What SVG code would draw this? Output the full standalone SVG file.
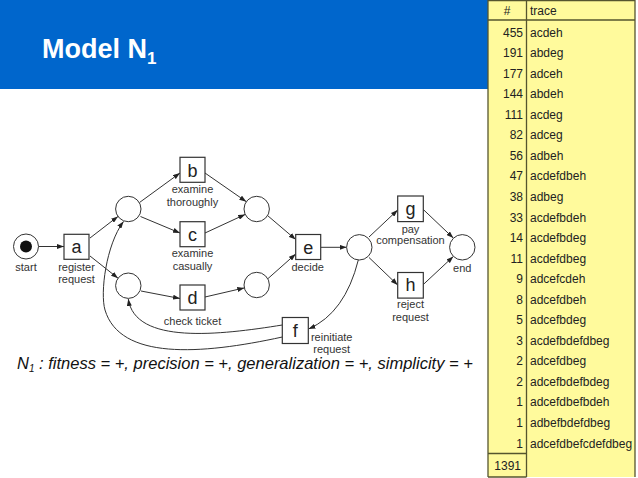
<svg xmlns="http://www.w3.org/2000/svg" width="638" height="478" viewBox="0 0 638 478">
<style>
.pl{fill:#fff;stroke:#333;stroke-width:1}
.tr{fill:#fff;stroke:#333;stroke-width:1.2}
.arc{fill:none;stroke:#333;stroke-width:1;marker-end:url(#ah)}
.lt{font-family:"Liberation Sans",Arial,sans-serif;font-size:18px;fill:#222;text-anchor:middle}
.lb{font-family:"Liberation Sans",Arial,sans-serif;font-size:11px;fill:#333;text-anchor:middle}
.tn{font-family:"Liberation Sans",Arial,sans-serif;font-size:12px;fill:#222;text-anchor:end}
.tt{font-family:"Liberation Sans",Arial,sans-serif;font-size:12px;fill:#222}
.tl{stroke:#55552e;stroke-width:1.3;fill:none}
</style>
<defs>
<marker id="ah" markerWidth="7" markerHeight="5" refX="7" refY="2.5" orient="auto" markerUnits="userSpaceOnUse">
<path d="M0,0 L7,2.5 L0,5 z" fill="#222"/>
</marker>
</defs>
<rect x="0" y="0" width="638" height="478" fill="#fff"/>
<rect x="0" y="0" width="488" height="89" fill="#0066CC"/>
<text x="42" y="58" font-family="'Liberation Sans',Arial,sans-serif" font-size="27" font-weight="bold" fill="#fff">Model N<tspan font-size="17" dy="6">1</tspan></text>

<g id="table">
<rect x="488" y="0" width="147" height="477" fill="#FFFA9C"/>
<line class="tl" x1="488" y1="0.7" x2="635" y2="0.7"/>
<line class="tl" x1="488" y1="20" x2="635" y2="20"/>
<line class="tl" x1="488" y1="0" x2="488" y2="477"/>
<line class="tl" x1="526.5" y1="0" x2="526.5" y2="477"/>
<line class="tl" x1="635" y1="0" x2="635" y2="477"/>
<line class="tl" x1="488" y1="453.5" x2="526.5" y2="453.5"/>
<line class="tl" x1="488" y1="477" x2="526.5" y2="477"/>
<text class="tt" x="507" y="14.5" text-anchor="middle">#</text>
<text class="tt" x="530" y="14.5">trace</text>
<text class="tn" x="523" y="36.5">455</text><text class="tt" x="530" y="36.5">acdeh</text>
<text class="tn" x="523" y="57">191</text><text class="tt" x="530" y="57">abdeg</text>
<text class="tn" x="523" y="77.6">177</text><text class="tt" x="530" y="77.6">adceh</text>
<text class="tn" x="523" y="98.2">144</text><text class="tt" x="530" y="98.2">abdeh</text>
<text class="tn" x="523" y="118.7">111</text><text class="tt" x="530" y="118.7">acdeg</text>
<text class="tn" x="523" y="139.3">82</text><text class="tt" x="530" y="139.3">adceg</text>
<text class="tn" x="523" y="159.8">56</text><text class="tt" x="530" y="159.8">adbeh</text>
<text class="tn" x="523" y="180.4">47</text><text class="tt" x="530" y="180.4">acdefdbeh</text>
<text class="tn" x="523" y="200.9">38</text><text class="tt" x="530" y="200.9">adbeg</text>
<text class="tn" x="523" y="221.5">33</text><text class="tt" x="530" y="221.5">acdefbdeh</text>
<text class="tn" x="523" y="242">14</text><text class="tt" x="530" y="242">acdefbdeg</text>
<text class="tn" x="523" y="262.6">11</text><text class="tt" x="530" y="262.6">acdefdbeg</text>
<text class="tn" x="523" y="283.1">9</text><text class="tt" x="530" y="283.1">adcefcdeh</text>
<text class="tn" x="523" y="303.7">8</text><text class="tt" x="530" y="303.7">adcefdbeh</text>
<text class="tn" x="523" y="324.2">5</text><text class="tt" x="530" y="324.2">adcefbdeg</text>
<text class="tn" x="523" y="344.8">3</text><text class="tt" x="530" y="344.8">acdefbdefdbeg</text>
<text class="tn" x="523" y="365.3">2</text><text class="tt" x="530" y="365.3">adcefdbeg</text>
<text class="tn" x="523" y="385.9">2</text><text class="tt" x="530" y="385.9">adcefbdefbdeg</text>
<text class="tn" x="523" y="406.4">1</text><text class="tt" x="530" y="406.4">adcefdbefbdeh</text>
<text class="tn" x="523" y="427">1</text><text class="tt" x="530" y="427">adbefbdefdbeg</text>
<text class="tn" x="523" y="447.5">1</text><text class="tt" x="530" y="447.5">adcefdbefcdefdbeg</text>
<text class="tn" x="521" y="469.5">1391</text>
</g>

<g id="connectors">
<line class="arc" x1="38.5" y1="246.5" x2="64" y2="246.5"/>
<line class="arc" x1="90" y1="238" x2="118" y2="216.4"/>
<line class="arc" x1="90" y1="256" x2="118" y2="278.2"/>
<line class="arc" x1="139.5" y1="202.5" x2="180" y2="173"/>
<line class="arc" x1="140.5" y1="216.5" x2="180" y2="233"/>
<line class="arc" x1="205" y1="173" x2="246.3" y2="201.7"/>
<line class="arc" x1="205" y1="233" x2="245.2" y2="214.4"/>
<line class="arc" x1="141" y1="291" x2="180" y2="298.5"/>
<line class="arc" x1="205" y1="297" x2="244.3" y2="287.9"/>
<line class="arc" x1="267.5" y1="215.5" x2="295.7" y2="239.5"/>
<line class="arc" x1="267.5" y1="279" x2="295.7" y2="254"/>
<line class="arc" x1="320.7" y1="247.3" x2="346.6" y2="247.3"/>
<line class="arc" x1="369" y1="237" x2="397.7" y2="210"/>
<line class="arc" x1="369" y1="257.5" x2="397.7" y2="285"/>
<line class="arc" x1="423.3" y1="209.5" x2="453.3" y2="238"/>
<line class="arc" x1="423.3" y1="284.5" x2="453.3" y2="256.5"/>
<path class="arc" d="M358.3,260 Q345,313 308.5,329"/>
<path class="arc" d="M282.3,325 C220,335 135,345 128.3,299"/>
<path class="arc" d="M282.3,337 C200,355 120,360 105,310 C100,293 106,245 123.5,221.5"/>
</g>

<g id="start"><circle class="pl" cx="26" cy="246.5" r="12.5"/><circle cx="26" cy="246.5" r="6" fill="#111"/><text class="lb" x="26" y="270.5">start</text></g>
<g id="a"><rect class="tr" x="64" y="234.3" width="25" height="25"/><text class="lt" x="76.5" y="253">a</text><text class="lb" x="76.5" y="270.5">register</text><text class="lb" x="76.5" y="283">request</text></g>
<g id="p1"><circle class="pl" cx="128.3" cy="209" r="12.7"/></g>
<g id="p2"><circle class="pl" cx="128.3" cy="285.7" r="12.7"/></g>
<g id="b"><rect class="tr" x="180" y="157.3" width="25" height="25"/><text class="lt" x="192.5" y="176.5">b</text><text class="lb" x="192.5" y="193">examine</text><text class="lb" x="192.5" y="205.5">thoroughly</text></g>
<g id="c"><rect class="tr" x="180" y="221.7" width="25" height="25"/><text class="lt" x="192.5" y="240.5">c</text><text class="lb" x="192.5" y="257">examine</text><text class="lb" x="192.5" y="269.5">casually</text></g>
<g id="d"><rect class="tr" x="180" y="285" width="25" height="25"/><text class="lt" x="192.5" y="304">d</text><text class="lb" x="192.5" y="324.5">check ticket</text></g>
<g id="p3"><circle class="pl" cx="256.7" cy="209" r="12.7"/></g>
<g id="p4"><circle class="pl" cx="256.7" cy="285" r="12.7"/></g>
<g id="e"><rect class="tr" x="295.7" y="234.5" width="25" height="25"/><text class="lt" x="308.2" y="253.5">e</text><text class="lb" x="307.7" y="271">decide</text></g>
<g id="p5"><circle class="pl" cx="359.3" cy="247.3" r="12.7"/></g>
<g id="g"><rect class="tr" x="397.7" y="196" width="25.6" height="25.6"/><text class="lt" x="410.5" y="214.5">g</text><text class="lb" x="410.5" y="233">pay</text><text class="lb" x="410.5" y="244">compensation</text></g>
<g id="h"><rect class="tr" x="397.7" y="272.5" width="25.6" height="25.6"/><text class="lt" x="410.5" y="291">h</text><text class="lb" x="410.5" y="308">reject</text><text class="lb" x="410.5" y="320.5">request</text></g>
<g id="end"><circle class="pl" cx="462.3" cy="247.3" r="12.7"/><text class="lb" x="462.3" y="272">end</text></g>
<g id="f"><rect class="tr" x="282.3" y="317.5" width="26" height="26"/><text class="lt" x="295.3" y="337">f</text><text class="lb" x="331.7" y="341">reinitiate</text><text class="lb" x="331.7" y="352.5">request</text></g>

<text x="17" y="369" font-family="'Liberation Sans',Arial,sans-serif" font-size="16.5" font-style="italic" fill="#111">N<tspan font-size="10" dy="3">1</tspan><tspan font-size="16.5" dy="-3"> : fitness = +, precision = +, generalization = +, simplicity = +</tspan></text>
</svg>
